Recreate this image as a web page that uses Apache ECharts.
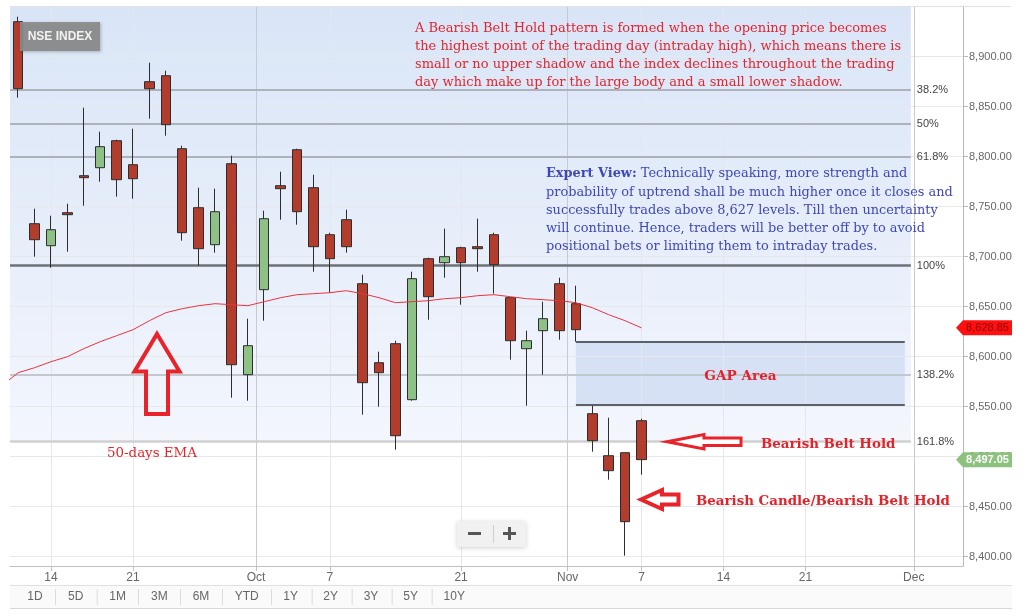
<!DOCTYPE html>
<html><head><meta charset="utf-8">
<script src="https://cdn.jsdelivr.net/npm/echarts@6/dist/echarts.min.js"></script>
<style>html,body{margin:0;padding:0;background:#fff}#c{width:1026px;height:616px}</style>
</head><body><div id="c"></div>
<script>
// ---- data ----
const dates = ['2016-09-09','2016-09-12','2016-09-14','2016-09-15','2016-09-16','2016-09-19','2016-09-20','2016-09-21','2016-09-22','2016-09-23','2016-09-26','2016-09-27','2016-09-28','2016-09-29','2016-09-30',
 '2016-10-03','2016-10-04','2016-10-05','2016-10-06','2016-10-07','2016-10-10','2016-10-13','2016-10-14','2016-10-17','2016-10-18','2016-10-19','2016-10-20','2016-10-21','2016-10-24','2016-10-25','2016-10-26','2016-10-27','2016-10-28','2016-10-30',
 '2016-11-01','2016-11-02','2016-11-03','2016-11-04','2016-11-07'];
const opens  = [8935,8733,8711,8744,8781,8789,8816,8792,8875,8881,8808,8749,8712,8793,8582,8667,8771,8807,8769,8722,8737,8673,8594,8613,8557,8698,8694,8709,8710,8722,8659,8608,8626,8673,8653,8543,8501,8504,8536];
const closes = [8868,8717,8727,8742,8779,8810,8777,8778,8868,8832,8724,8708,8745,8592,8611,8738,8768,8745,8710,8698,8710,8574,8584,8521,8678,8660,8700,8694,8708,8692,8616,8616,8638,8626,8627,8516,8486,8435,8497.05];
const lows   = [8859,8700,8689,8705,8751,8775,8760,8758,8838,8821,8716,8691,8704,8559,8556,8636,8737,8732,8685,8664,8704,8542,8550,8507,8556,8637,8679,8652,8685,8663,8597,8551,8582,8617,8615,8505,8477,8401,8482];
const highs  = [8940,8748,8741,8753,8849,8825,8817,8828,8894,8886,8811,8769,8768,8801,8638,8746,8785,8808,8782,8724,8747,8682,8605,8616,8685,8699,8728,8710,8738,8724,8659,8626,8655,8679,8671,8551,8539,8504,8538];
// 50-day EMA, first value belongs to the session before the first visible candle
const ema50 = [8571,8584,8589,8595,8600,8608,8615,8621,8627,8636,8644,8648,8651,8653,8652,8651,8655,8659,8662,8663,8664,8666,8663,8659,8654,8655,8656,8658,8659,8661,8662,8660,8658,8657,8656,8654,8649,8642,8636,8628.85];
const xTickPos    = [2, 7, 14.5, 19, 27, 33.5, 38, 43, 48, 54.6];
const xTickLabels = ['14','21','Oct','7','21','Nov','7','14','21','Dec'];
const xTickMajor  = [false,false,true,false,false,true,false,false,false,true];
const yTicks = [8400,8450,8500,8550,8600,8650,8700,8750,8800,8850,8900];
const fibLevels = [8867, 8833, 8800, 8691, 8582, 8515];
const fibLabels = ['38.2%','50%','61.8%','100%','138.2%','161.8%'];
const gapTop = 8614.7, gapBottom = 8551.7;
const gapStartIdx = 34, gapEndIdx = 54.05, fibEndIdx = 54.42;
const rangeButtons = ['1D','5D','1M','3M','6M','YTD','1Y','2Y','3Y','5Y','10Y'];

// ---- styles ----
const fibColors = ['#aeb3bb','#aeb3bb','#aeb3bb','#6d7178','#c3c7ce','#d0d0d0'];
const fibWidths = [2,2,2,2.5,2,2.5];
const RED = '#e3222a';

const candleData = dates.map((d,i)=>[i, opens[i], closes[i], lows[i], highs[i]]);
const emaData = ema50.map((v,i)=>[i-1, v]);

const chart = echarts.init(document.getElementById('c'), null, {renderer:'canvas'});
const option = {
  animation:false,
  backgroundColor:'#ffffff',
  grid:{left:10, right:63, top:6, bottom:50, outerBoundsMode:'none', containLabel:false},
  xAxis:{
    type:'value', min:-0.5, max:57.6,
    axisLine:{show:true, onZero:false, lineStyle:{color:'#c0c0c0', width:1}},
    axisTick:{show:true, length:5, customValues:xTickPos, lineStyle:{color:'#c0c0c0'}},
    axisLabel:{customValues:xTickPos, margin:6, color:'#666', fontSize:12, fontFamily:'Liberation Sans',
      formatter:(v)=>{const k = xTickPos.indexOf(v); return k>=0 ? xTickLabels[k] : '';}},
    splitLine:{show:true, lineStyle:{color:xTickMajor.map(m=>m?'#c6cad1':'#e4e7ec'), width:1}}
  },
  yAxis:{
    type:'value', position:'right', min:8390.7, max:8950.7, scale:true,
    axisLine:{show:true, onZero:false, lineStyle:{color:'#b8b8b8', width:1}},
    axisTick:{show:true, length:5, customValues:yTicks, lineStyle:{color:'#b8b8b8'}},
    axisLabel:{customValues:yTicks, margin:6, color:'#666', fontSize:11, fontFamily:'Liberation Sans',
      formatter:(v)=>v.toLocaleString('en-US',{minimumFractionDigits:2, maximumFractionDigits:2})},
    splitLine:{show:true, lineStyle:{color:'#e6e8ec', width:1}}
  },
  series:[
    {
      name:'bg', type:'line', data:[], z:-1, silent:true,
      markArea:{silent:true, z:-1, data:[
        [{coord:[-0.5, 8950.7], itemStyle:{color:{type:'linear',x:0,y:0,x2:0,y2:1,colorStops:[{offset:0,color:'#d9e5f7'},{offset:1,color:'#f3f6fd'}]}}},
         {coord:[fibEndIdx, fibLevels[5]]}],
        [{coord:[gapStartIdx, gapTop], itemStyle:{color:'#d6e1f6'}}, {coord:[gapEndIdx, gapBottom]}]
      ]}
    },
    {
      name:'fib', type:'line', data:[], z:1, silent:true,
      markLine:{silent:true, z:1, symbol:['none','none'], animation:false,
        data: fibLevels.map((v,k)=>[
          {coord:[-0.5, v], lineStyle:{color:fibColors[k], width:fibWidths[k], type:'solid'},
           label:{show:true, position:'end', distance:6, formatter:fibLabels[k], color:'#444', fontSize:11, fontFamily:'Liberation Sans'}},
          {coord:[fibEndIdx, v]}
        ]).concat([
          [{coord:[gapStartIdx, gapTop], lineStyle:{color:'#5c6168', width:2, type:'solid'}, label:{show:false}}, {coord:[gapEndIdx, gapTop]}],
          [{coord:[gapStartIdx, gapBottom], lineStyle:{color:'#5c6168', width:2, type:'solid'}, label:{show:false}}, {coord:[gapEndIdx, gapBottom]}]
        ])
      }
    },
    {
      name:'NSE', type:'candlestick', z:3, data:candleData,
      encode:{x:0, y:[1,2,3,4]},
      barWidth:10,
      itemStyle:{color:'#8dc185', color0:'#b33d2c', borderColor:'#2d2d2d', borderColor0:'#2d2d2d', borderWidth:1}
    },
    {
      name:'EMA50', type:'line', z:4, data:emaData, showSymbol:false, symbol:'none', smooth:false,
      lineStyle:{color:'#e8333c', width:1}
    }
  ]
};
chart.setOption(option);

// ---- annotations ----
const yEma = chart.convertToPixel({yAxisIndex:0}, ema50[ema50.length-1]);
const yClose = chart.convertToPixel({yAxisIndex:0}, closes[closes.length-1]);
const xAxisRight = chart.convertToPixel({xAxisIndex:0}, 57.6);
function badge(cy, text, fill, textColor, bold){
  const x0 = xAxisRight - 7, x1 = xAxisRight, x2 = xAxisRight + 49, h = 7.5;
  return [
    {type:'polygon', shape:{points:[[x0,cy],[x1,cy-h],[x2,cy-h],[x2,cy+h],[x1,cy+h]]}, style:{fill:fill}, z:20},
    {type:'text', x:(x1+x2)/2, y:cy, style:{text:text, fill:textColor, font:(bold?'bold ':'')+'11px "Liberation Sans"', textAlign:'center', textVerticalAlign:'middle'}, z:21}
  ];
}
const serif = '"DejaVu Serif"';
const para1 = ['A Bearish Belt Hold pattern is formed when the opening price becomes',
 'the highest point of the trading day (intraday high), which means there is',
 'small or no upper shadow and the index declines throughout the trading',
 'day which make up for the large body and a small lower shadow.'];
const para2 = ['{b|Expert View:} Technically speaking, more strength and',
 'probability of uptrend shall be much higher once it closes and',
 'successfully trades above 8,627 levels. Till then uncertainty',
 'will continue. Hence, traders will be better off by to avoid',
 'positional bets or limiting them to intraday trades.'];
const g = [];
g.push({type:'line', shape:{x1:10,y1:6.5,x2:1011,y2:6.5}, style:{stroke:'#e2e2e2', lineWidth:1}, z:5});
para1.forEach((t,k)=>g.push({type:'text', x:415, y:29+18*k, style:{text:t, fill:'#e0262e', fontSize:13, fontFamily:'DejaVu Serif', textVerticalAlign:'middle'}, z:10}));
para2.forEach((t,k)=>g.push({type:'text', x:546, y:174+18.2*k, style:{text:t, fill:'#3f47b6', fontSize:12.9, fontFamily:'DejaVu Serif', textVerticalAlign:'middle',
  rich:{b:{fontWeight:'bold', fill:'#3f47b6', fontSize:12.9, fontFamily:'DejaVu Serif'}}}, z:10}));
g.push({type:'text', x:740.5, y:376, style:{text:'GAP Area', fill:RED, fontWeight:'bold', fontSize:13.6, fontFamily:'DejaVu Serif', textAlign:'center', textVerticalAlign:'middle'}, z:10});
g.push({type:'text', x:761, y:444.5, style:{text:'Bearish Belt Hold', fill:RED, fontWeight:'bold', fontSize:13.4, fontFamily:'DejaVu Serif', textVerticalAlign:'middle'}, z:10});
g.push({type:'text', x:696, y:501.5, style:{text:'Bearish Candle/Bearish Belt Hold', fill:RED, fontWeight:'bold', fontSize:13.4, fontFamily:'DejaVu Serif', textVerticalAlign:'middle'}, z:10});
g.push({type:'text', x:107, y:453.5, style:{text:'50-days EMA', fill:'#e0262e', fontSize:13.4, fontFamily:'DejaVu Serif', textVerticalAlign:'middle'}, z:10});
// arrows
g.push({type:'polygon', shape:{points:[[157,334],[179.5,371.5],[168,371.5],[168,414],[146,414],[146,371.5],[134.5,371.5]]}, style:{fill:'none', stroke:'#e8232a', lineWidth:4, lineJoin:'miter'}, z:10});
g.push({type:'polygon', shape:{points:[[667,441.7],[704,434.5],[704,438],[741,438],[741,445.5],[704,445.5],[704,449],[667,441.7]]}, style:{fill:'#ffffff', stroke:'#e8232a', lineWidth:3, lineJoin:'miter'}, z:10});
g.push({type:'polygon', shape:{points:[[641,499.5],[662,490],[662,494.5],[678.5,494.5],[678.5,504.5],[662,504.5],[662,509],[641,499.5]]}, style:{fill:'#ffffff', stroke:'#e8232a', lineWidth:4, lineJoin:'miter'}, z:10});
// NSE INDEX label
g.push({type:'rect', shape:{x:20,y:22,width:80,height:29}, style:{fill:'rgba(138,138,138,0.92)', shadowBlur:3, shadowColor:'rgba(0,0,0,0.25)', shadowOffsetX:1, shadowOffsetY:1}, z:15});
g.push({type:'text', x:60, y:36.5, style:{text:'NSE INDEX', fill:'#f2f2f2', font:'bold 12px "Liberation Sans"', textAlign:'center', textVerticalAlign:'middle'}, z:16});
// zoom control
g.push({type:'rect', shape:{x:457,y:521,width:69,height:26, r:2}, style:{fill:'#f1f1f1', shadowBlur:4, shadowColor:'rgba(0,0,0,0.18)', shadowOffsetY:1}, z:15});
g.push({type:'rect', shape:{x:468,y:532,width:13,height:3}, style:{fill:'#555'}, z:16});
g.push({type:'rect', shape:{x:503,y:532,width:13,height:3}, style:{fill:'#555'}, z:16});
g.push({type:'rect', shape:{x:508,y:527,width:3,height:13}, style:{fill:'#555'}, z:16});
g.push({type:'line', shape:{x1:493.5,y1:525,x2:493.5,y2:543}, style:{stroke:'#cfcfcf', lineWidth:1}, z:16});
// range selector strip
g.push({type:'rect', shape:{x:10,y:585,width:1002,height:23}, style:{fill:'#fafafa'}, z:5});
g.push({type:'line', shape:{x1:10,y1:585.5,x2:1012,y2:585.5}, style:{stroke:'#e0e0e0', lineWidth:1}, z:6});
g.push({type:'line', shape:{x1:10,y1:608.5,x2:1012,y2:608.5}, style:{stroke:'#d8d8d8', lineWidth:1}, z:6});
const btnX = [35,75.7,117.7,159.3,201,246.7,290.7,330.7,371,410.7,454.3];
const sepX = [55,96.7,138,180,222,271,311.7,351.7,391.7,431.7];
rangeButtons.forEach((t,k)=>g.push({type:'text', x:btnX[k], y:597, style:{text:t, fill:'#666', font:'12px "Liberation Sans"', textAlign:'center', textVerticalAlign:'middle'}, z:7}));
sepX.forEach(x=>g.push({type:'line', shape:{x1:x+0.5,y1:589,x2:x+0.5,y2:605}, style:{stroke:'#dcdcdc', lineWidth:1}, z:7}));
// value badges
badge(yEma, ema50[ema50.length-1].toLocaleString('en-US',{minimumFractionDigits:2}), '#ff1010', '#8a0000', false).forEach(e=>g.push(e));
badge(yClose, closes[closes.length-1].toLocaleString('en-US',{minimumFractionDigits:2}), '#8cc17e', '#ffffff', true).forEach(e=>g.push(e));
chart.setOption({graphic:g});
</script>
</body></html>
